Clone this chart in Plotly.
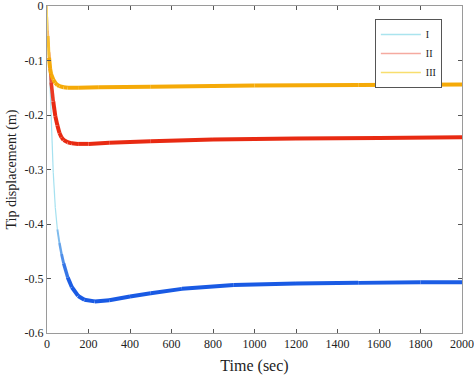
import plotly.graph_objects as go

# ---- data ----
t_I = [0, 10, 20, 30, 40, 50, 60, 70, 80, 100, 120, 150, 180, 230, 300, 400, 500, 650, 900, 1200, 1500, 1800, 2000]
y_I = [0, -0.10, -0.20, -0.305, -0.37, -0.41, -0.435, -0.455, -0.472, -0.498, -0.516, -0.532, -0.539, -0.542, -0.540, -0.533, -0.527, -0.519, -0.512, -0.509, -0.508, -0.507, -0.507]

t_II = [0, 5, 10, 15, 20, 30, 40, 50, 60, 70, 80, 100, 120, 150, 200, 300, 500, 800, 1200, 1600, 2000]
y_II = [0, -0.045, -0.085, -0.115, -0.14, -0.175, -0.202, -0.219, -0.233, -0.241, -0.246, -0.250, -0.252, -0.253, -0.253, -0.251, -0.248, -0.245, -0.243, -0.242, -0.241]

t_III = [0, 5, 10, 15, 20, 30, 40, 50, 60, 80, 100, 150, 250, 500, 1000, 1500, 2000]
y_III = [0, -0.055, -0.095, -0.115, -0.125, -0.135, -0.141, -0.145, -0.147, -0.149, -0.150, -0.150, -0.149, -0.148, -0.146, -0.145, -0.144]

names = ["I", "II", "III"]
x_ticks = [0, 200, 400, 600, 800, 1000, 1200, 1400, 1600, 1800, 2000]
y_ticks = [0, -0.1, -0.2, -0.3, -0.4, -0.5, -0.6]
y_tick_text = ["0", "-0.1", "-0.2", "-0.3", "-0.4", "-0.5", "-0.6"]

# light colour, dark colour, gradient start/span (fraction of min), legend colour
series = [
    (t_I, y_I, (165, 225, 240), (25, 90, 228), 0.72, 0.22, (170, 228, 238)),
    (t_II, y_II, (245, 150, 140), (232, 42, 18), 0.15, 0.55, (245, 170, 160)),
    (t_III, y_III, (250, 225, 110), (245, 170, 8), 0.15, 0.55, (248, 222, 110)),
]

fig = go.Figure()

def lerp(a, b, f):
    return tuple(int(round(a[i] + (b[i] - a[i]) * f)) for i in range(3))

for (ts, ys, light, dark, f0, span, leg), name in zip(series, names):
    ymin = min(ys)
    for i in range(len(ts) - 1):
        f = ((ys[i] + ys[i + 1]) / 2) / ymin
        g = max(0.0, min(1.0, (f - f0) / span))
        c = lerp(light, dark, g)
        fig.add_trace(go.Scatter(
            x=[ts[i], ts[i + 1]], y=[ys[i], ys[i + 1]], mode="lines",
            line=dict(color="rgb(%d,%d,%d)" % c, width=1.2 + 2.8 * g),
            showlegend=False, hoverinfo="skip", cliponaxis=False))

for (ts, ys, light, dark, f0, span, leg), name in zip(series, names):
    fig.add_trace(go.Scatter(
        x=[None], y=[None], mode="lines", name=name,
        line=dict(color="rgb(%d,%d,%d)" % leg, width=1.5)))

axis_common = dict(
    showline=True, linecolor="#9a9a9a", linewidth=1, mirror="ticks",
    ticks="inside", ticklen=4, tickcolor="#555555", showgrid=False, zeroline=False,
    automargin=False, ticklabeloverflow="allow",
    tickfont=dict(family="Liberation Serif", size=12, color="#222222"),
)

fig.update_xaxes(range=[0, 2000], tickvals=x_ticks, ticktext=[str(v) for v in x_ticks],
                 title=dict(text="Time (sec)", font=dict(family="Liberation Serif", size=16, color="#222222"), standoff=9),
                 **axis_common)
fig.update_yaxes(range=[-0.6, 0], tickvals=y_ticks, ticktext=y_tick_text,
                 title=dict(text="Tip displacement (m)", font=dict(family="Liberation Serif", size=14, color="#222222"), standoff=4),
                 **axis_common)

fig.update_layout(
    width=474, height=377,
    margin=dict(l=47, r=12, t=6, b=44),
    plot_bgcolor="white", paper_bgcolor="white",
    legend=dict(x=0.79, y=0.96, xanchor="left", yanchor="top",
                bgcolor="white", bordercolor="#555555", borderwidth=1,
                font=dict(family="Liberation Serif", size=10, color="#222222"),
                tracegroupgap=0, itemwidth=40),
)

fig.write_html("out.html", config={"displayModeBar": False},
               post_script="document.body.style.margin='0';")
